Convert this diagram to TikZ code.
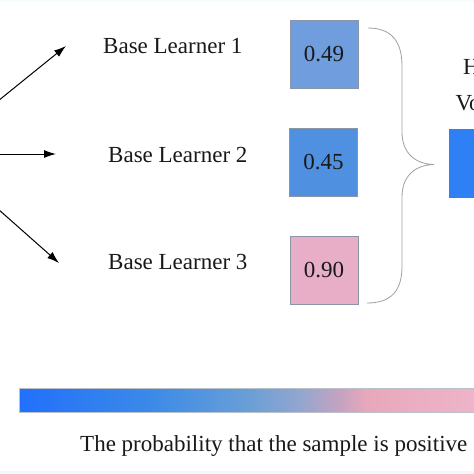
\documentclass[tikz,border=0pt]{standalone}
\usepackage{fontspec}
\setmainfont{Liberation Serif}
\usetikzlibrary{arrows.meta}
\definecolor{cA}{HTML}{2270FB}
\definecolor{cB}{HTML}{3B8AE8}
\definecolor{cC}{HTML}{6B9FD6}
\definecolor{cD}{HTML}{93A6CF}
\definecolor{cE}{HTML}{C6A3C0}
\definecolor{cF}{HTML}{E8A8BC}
\definecolor{cG}{HTML}{EEB4C8}
\definecolor{cH}{HTML}{F0B8CC}
\definecolor{boxone}{HTML}{6F9DDD}
\definecolor{boxtwo}{HTML}{4F90E0}
\definecolor{boxthree}{HTML}{E8AEC8}
\definecolor{votebox}{HTML}{2F7FF5}
\definecolor{bordergray}{HTML}{8A96A6}
\definecolor{bracegray}{HTML}{A0A0A0}
\pgfdeclarehorizontalshading{probbar}{100bp}{%
  color(0bp)=(cA); color(25bp)=(cA); color(38.9bp)=(cB); color(49.5bp)=(cC);
  color(54.8bp)=(cD); color(59.1bp)=(cE); color(61.9bp)=(cF); color(73.3bp)=(cG);
  color(75bp)=(cH); color(100bp)=(cH)}
\tikzset{
  txt/.style={inner sep=0pt, font=\fontsize{23}{27}\selectfont, text=black!90},
  probbox/.style={draw=bordergray, line width=0.7pt, minimum width=68pt, minimum height=68pt, inner sep=0pt, font=\fontsize{23}{27}\selectfont, text=black!90},
  arr/.style={line width=1pt, -{Latex[length=12pt,width=8pt]}},
  bracestyle/.style={draw=bracegray, line width=0.8pt}
}
\begin{document}
\begin{tikzpicture}[x=1pt,y=-1pt]
\useasboundingbox (0,0) rectangle (474,474);
\fill[white] (0,0) rectangle (474,474);
\fill[cyan!6] (0,471) rectangle (474,474);
\fill[cyan!4] (0,0) rectangle (474,2);

% arrows
\coordinate (s1) at (-2,101);
\coordinate (e1) at (66,46);
\coordinate (s2) at (-2,154);
\coordinate (e2) at (56,154);
\coordinate (s3) at (-2,209);
\coordinate (e3) at (59,263);
\draw[arr] (s1) -- (e1);
\draw[arr] (s2) -- (e2);
\draw[arr] (s3) -- (e3);

% learner labels
\node[txt, anchor=base west] (bl1) at (103,53) {Base Learner 1};
\node[txt, anchor=base west] (bl2) at (108,162) {Base Learner 2};
\node[txt, anchor=base west] (bl3) at (108,269) {Base Learner 3};

% probability boxes
\node[probbox, fill=boxone] (p1) at (324,54.5) {0.49};
\node[probbox, fill=boxtwo] (p2) at (323.5,162.5) {0.45};
\node[probbox, fill=boxthree] (p3) at (324,270) {0.90};

% brace
\coordinate (bt) at (368,28);
\coordinate (bm) at (434,164.5);
\coordinate (bb) at (367,303);
\draw[bracestyle] (bt) .. controls (392,28) and (402,42) .. (402,66)
  -- (402,132) .. controls (402,152) and (414,164) .. (bm)
  .. controls (414,165) and (402,177) .. (402,197)
  -- (402,266) .. controls (402,290) and (392,303) .. (bb);

% hard voting
\node[txt, align=center, font=\fontsize{23}{36}\selectfont] (hv) at (486,87) {Hard\\Voting};
\node[fill=votebox, draw=votebox, minimum width=72pt, minimum height=68pt, inner sep=0pt] (vb) at (485,163) {};

% gradient bar
\node[draw=bordergray!60, line width=0.6pt, shading=probbar, minimum width=471pt, minimum height=24pt, inner sep=0pt, anchor=north west] (bar) at (19,388) {};

\node[txt, anchor=base west] (cap) at (80,451) {The probability that the sample is positive};
\end{tikzpicture}
\end{document}
